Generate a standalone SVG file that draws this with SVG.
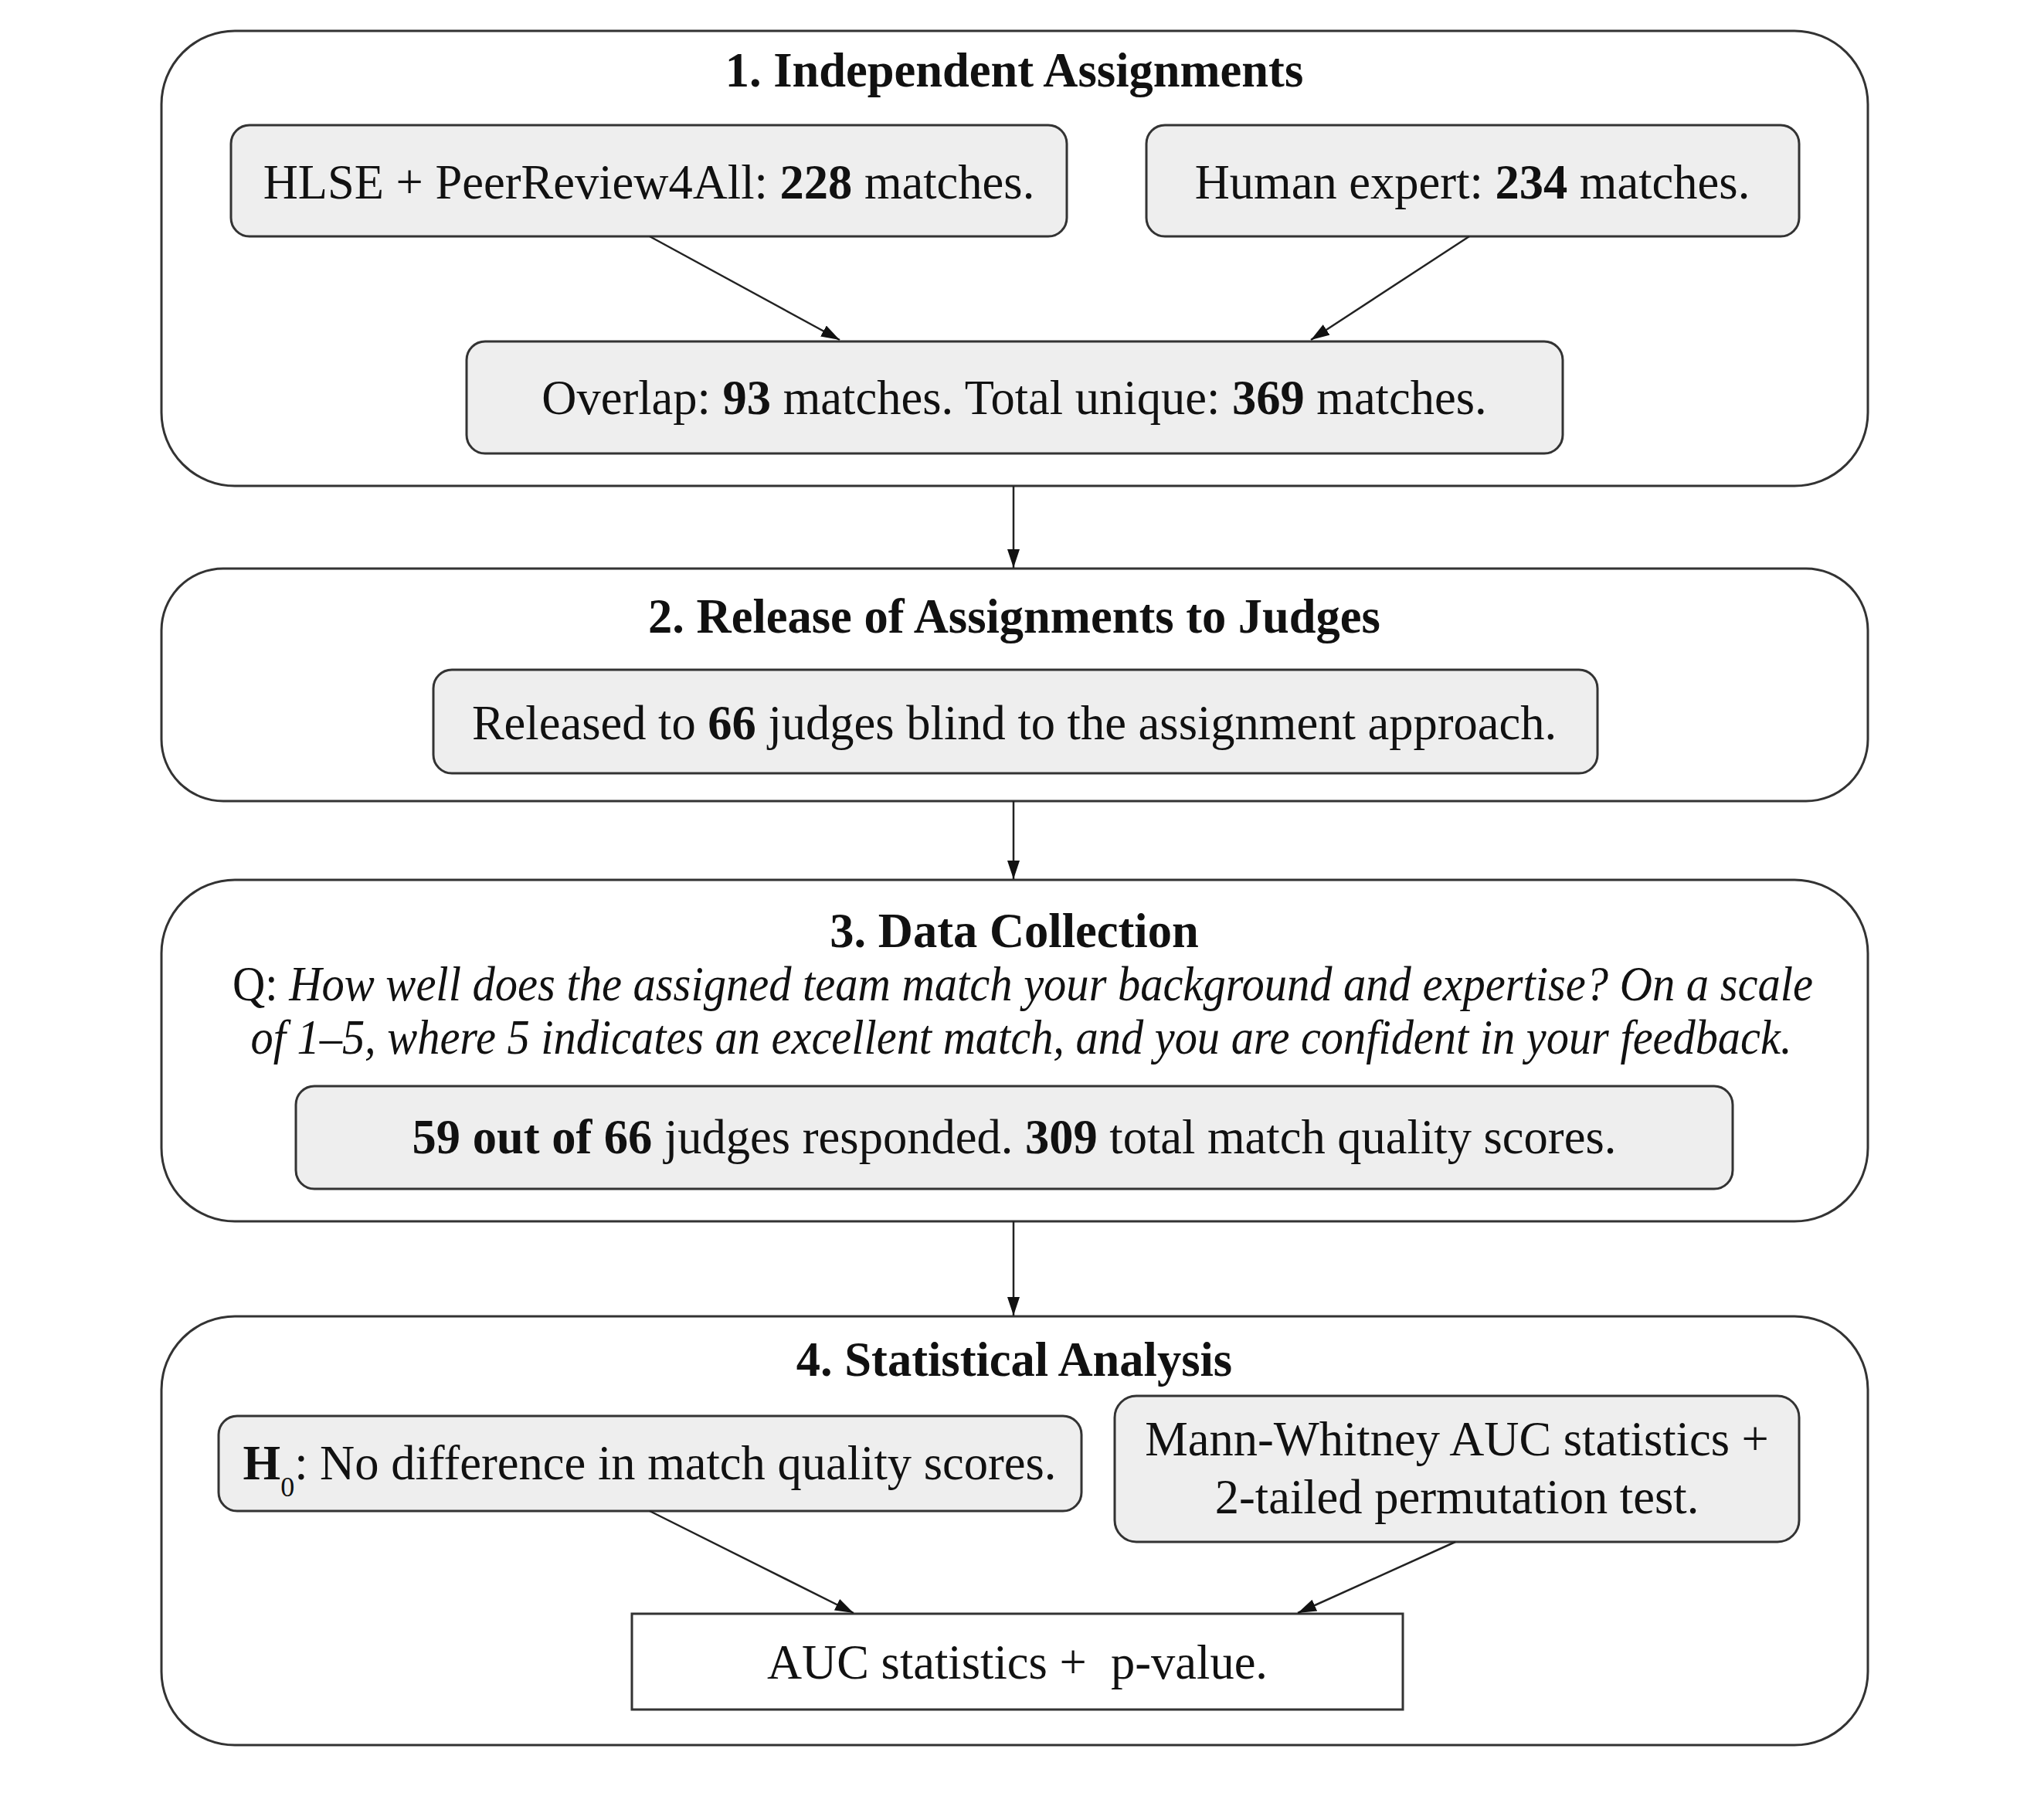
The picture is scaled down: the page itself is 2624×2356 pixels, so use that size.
<svg xmlns="http://www.w3.org/2000/svg" width="2624" height="2356" viewBox="0 0 2624 2356">
<style>
text{font-family:"Liberation Serif","Times New Roman",serif;font-size:62.5px;fill:#111;}
.t{font-weight:bold;text-anchor:middle;}
.c{text-anchor:middle;}
.b{font-weight:bold;}
.i{font-style:italic;}
.outer{fill:#fff;stroke:#333;stroke-width:3;}
.inner{fill:#eeeeee;stroke:#333;stroke-width:3;}
.plain{fill:#fff;stroke:#333;stroke-width:3;}
.conn{stroke:#222;stroke-width:2.5;fill:none;marker-end:url(#ah);}
</style>
<defs>
<marker id="ah" markerUnits="userSpaceOnUse" markerWidth="26" markerHeight="18" refX="24" refY="8" orient="auto">
<path d="M0,0 L24,8 L0,16 Z" fill="#111"/>
</marker>
</defs>
<rect width="2624" height="2356" fill="#fff"/>

<g id="stage1">
<rect class="outer" x="209" y="40" width="2209" height="589" rx="95" ry="95"/>
<text class="t" x="1313" y="112">1. Independent Assignments</text>
</g>
<g id="hlse">
<rect class="inner" x="299" y="162" width="1082" height="144" rx="24" ry="24"/>
<text class="c" x="840" y="257">HLSE + PeerReview4All: <tspan class="b">228</tspan> matches.</text>
</g>
<g id="human">
<rect class="inner" x="1484" y="162" width="845" height="144" rx="24" ry="24"/>
<text class="c" x="1906" y="257">Human expert: <tspan class="b">234</tspan> matches.</text>
</g>
<g id="overlap">
<rect class="inner" x="604" y="442" width="1419" height="145" rx="24" ry="24"/>
<text class="c" x="1313" y="536">Overlap: <tspan class="b">93</tspan> matches. Total unique: <tspan class="b">369</tspan> matches.</text>
</g>

<g id="stage2">
<rect class="outer" x="209" y="736" width="2209" height="301" rx="80" ry="80"/>
<text class="t" x="1313" y="819">2. Release of Assignments to Judges</text>
</g>
<g id="released">
<rect class="inner" x="561" y="867" width="1507" height="134" rx="24" ry="24"/>
<text class="c" x="1313" y="957">Released to <tspan class="b">66</tspan> judges blind to the assignment approach.</text>
</g>

<g id="stage3">
<rect class="outer" x="209" y="1139" width="2209" height="442" rx="95" ry="95"/>
<text class="t" x="1313" y="1226">3. Data Collection</text>
<text class="c" x="1324" y="1295" textLength="2046" lengthAdjust="spacingAndGlyphs">Q: <tspan class="i">How well does the assigned team match your background and expertise? On a scale</tspan></text>
<text class="c i" x="1322" y="1364" textLength="1995" lengthAdjust="spacingAndGlyphs">of 1–5, where 5 indicates an excellent match, and you are confident in your feedback.</text>
</g>
<g id="responded">
<rect class="inner" x="383" y="1406" width="1860" height="133" rx="24" ry="24"/>
<text class="c" x="1313" y="1493"><tspan class="b">59 out of 66</tspan> judges responded. <tspan class="b">309</tspan> total match quality scores.</text>
</g>

<g id="stage4">
<rect class="outer" x="209" y="1704" width="2209" height="555" rx="95" ry="95"/>
<text class="t" x="1313" y="1781">4. Statistical Analysis</text>
</g>
<g id="h0">
<rect class="inner" x="283" y="1833" width="1117" height="123" rx="24" ry="24"/>
<text class="c" x="841" y="1915"><tspan class="b">H</tspan><tspan font-size="36" dy="22">0</tspan><tspan dy="-22">: No difference in match quality scores.</tspan></text>
</g>
<g id="mannwhitney">
<rect class="inner" x="1443" y="1807" width="886" height="189" rx="28" ry="28"/>
<text class="c" x="1886" y="1884">Mann-Whitney AUC statistics +</text>
<text class="c" x="1886" y="1959">2-tailed permutation test.</text>
</g>
<g id="result">
<rect class="plain" x="818" y="2089" width="998" height="124"/>
<text class="c" x="1317" y="2173" style="white-space:pre">AUC statistics +  p-value.</text>
</g>

<g id="connectors">
<line class="conn" x1="841" y1="306" x2="1087" y2="440"/>
<line class="conn" x1="1902" y1="306" x2="1697" y2="440"/>
<line class="conn" x1="1312" y1="629" x2="1312" y2="735"/>
<line class="conn" x1="1312" y1="1037" x2="1312" y2="1138"/>
<line class="conn" x1="1312" y1="1581" x2="1312" y2="1703"/>
<line class="conn" x1="841" y1="1956" x2="1105" y2="2088"/>
<line class="conn" x1="1884" y1="1996" x2="1680" y2="2088"/>
</g>
</svg>
